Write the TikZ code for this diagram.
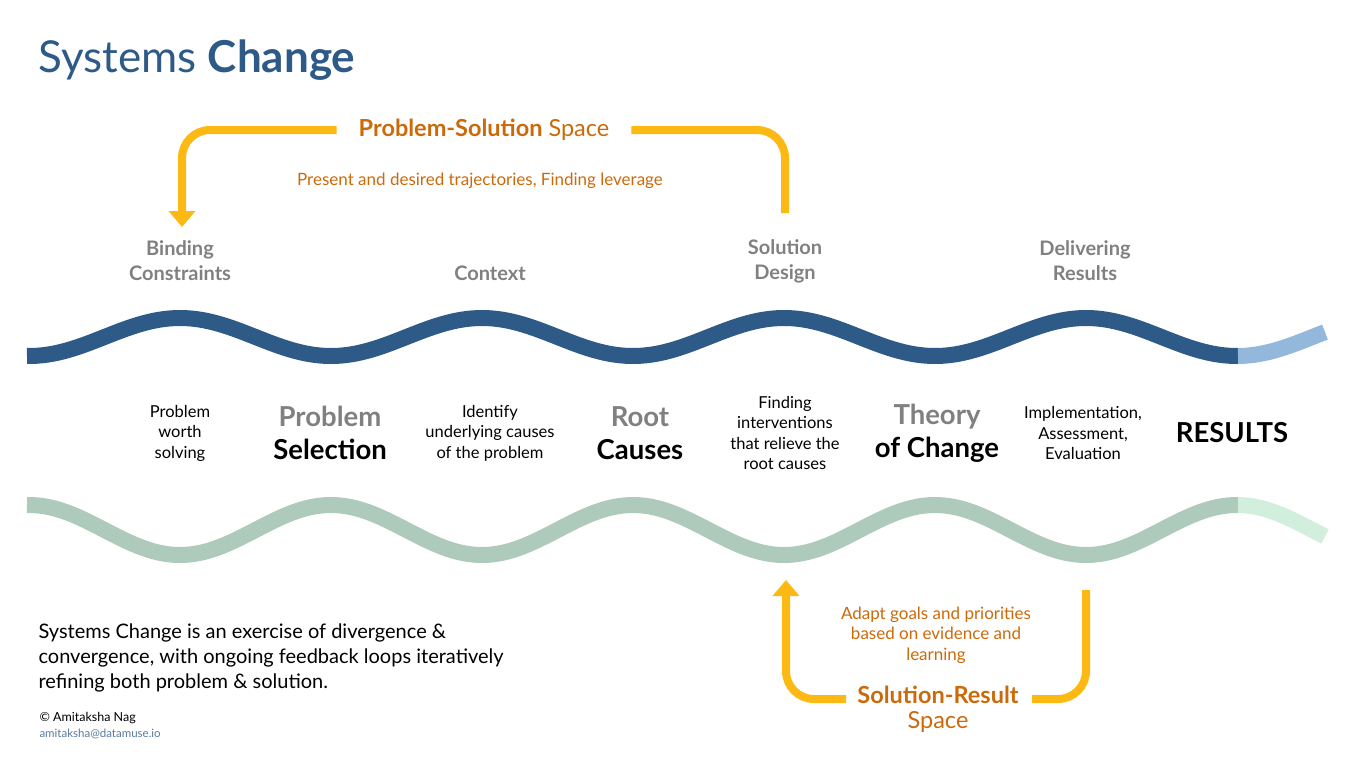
\documentclass[tikz,border=0pt]{standalone}
\usepackage{fontspec}
\setmainfont{Lato}
\usetikzlibrary{arrows.meta,positioning}
\definecolor{wavedark}{HTML}{2E5A88}
\definecolor{wavelight}{HTML}{93B8DC}
\definecolor{wavegreen}{HTML}{AECABA}
\definecolor{wavemint}{HTML}{D2EEDD}
\definecolor{loopgold}{HTML}{FDB913}
\definecolor{looptext}{HTML}{CC6A0A}
\definecolor{stagegray}{HTML}{808080}
\tikzset{
  stage/.style={text=stagegray,font=\fontsize{20}{25}\selectfont\bfseries,align=center},
  note/.style={font=\fontsize{16.5}{20.5}\selectfont,align=center},
  big/.style={font=\fontsize{27.5}{33}\selectfont\bfseries,align=center},
  loop/.style={draw=loopgold,line width=8pt,rounded corners=28pt},
  looplabel/.style={text=looptext,align=center}
}
\begin{document}
\begin{tikzpicture}[x=1pt,y=-1pt]
\useasboundingbox (0,0) rectangle (1358,764);
\node[anchor=west,text=wavedark,font=\fontsize{44}{50}\selectfont] (title) at (35,60) {Systems \textbf{Change}};

% waves
\draw[wavedark,line width=16pt] plot[domain=27:1238,samples=240] (\x,{337-19*cos(1.19205*(\x-180))});
\draw[wavelight,line width=16pt] plot[domain=1238:1325,samples=30] (\x,{337-19*cos(1.19205*(\x-180))});
\draw[wavegreen,line width=16pt] plot[domain=27:1238,samples=240] (\x,{530+25*cos(1.19205*(\x-180))});
\draw[wavemint,line width=16pt] plot[domain=1238:1325,samples=30] (\x,{530+25*cos(1.19205*(\x-180))});

% problem-solution loop
\node[looplabel,font=\fontsize{23.5}{26}\selectfont,inner xsep=22pt] (ps) at (484,130) {\textbf{Problem-Solution} Space};
\node[looplabel,font=\fontsize{17}{20}\selectfont] (pssub) at (480,181) {Present and desired trajectories, Finding leverage};
\coordinate (psstart) at (785,213);
\coordinate (psend) at (182,227);
\draw[loop] (psstart) -- (785,130) -- (ps.east);
\draw[loop,-{Triangle[length=16pt,width=26pt]}] (ps.west) -- (182,130) -- (psend);

% stages
\node[stage] (binding) at (180,261) {Binding\\Constraints};
\node[stage] (context) at (490,273) {Context};
\node[stage] (design) at (785,261) {Solution\\Design};
\node[stage] (delivering) at (1085,261) {Delivering\\Results};

% middle row
\node[note] (worth) at (180,433) {Problem\\worth\\solving};
\node[big] (selection) at (330,433) {\textcolor{stagegray}{Problem}\\Selection};
\node[note] (identify) at (490,433) {Identify\\underlying causes\\of the problem};
\node[big] (root) at (640,433) {\textcolor{stagegray}{Root}\\Causes};
\node[note] (finding) at (785,433) {Finding\\interventions\\that relieve the\\root causes};
\node[big] (theory) at (937,433) {\textcolor{stagegray}{Theory}\\of Change};
\node[note] (impl) at (1083,433) {Implementation,\\Assessment,\\Evaluation};
\node[big] (results) at (1232,433) {RESULTS};

% solution-result loop
\node[looplabel,font=\fontsize{23.5}{25}\selectfont] (sr) at (938,709) {\textbf{Solution-Result}\\Space};
\node[looplabel,font=\fontsize{17}{20.5}\selectfont] (srsub) at (936,635) {Adapt goals and priorities\\based on evidence and\\learning};
\coordinate (srstart) at (1086,590);
\coordinate (srend) at (786,580);
\draw[loop] (srstart) -- (1086,699) -- (1032,699);
\draw[loop,-{Triangle[length=16pt,width=26pt]}] (846,699) -- (786,699) -- (srend);

% footer
\node[anchor=north west,align=left,font=\fontsize{20}{25}\selectfont] (summary) at (35,620) {Systems Change is an exercise of divergence \&\\convergence, with ongoing feedback loops iteratively\\refining both problem \& solution.};
\node[anchor=west,font=\fontsize{12.5}{14}\selectfont] (credit) at (36,718) {\textcopyright{} Amitaksha Nag};
\node[anchor=west,text=wavedark!80,font=\fontsize{11.5}{13}\selectfont] (mail) at (36,734) {amitaksha@datamuse.io};
\end{tikzpicture}
\end{document}
